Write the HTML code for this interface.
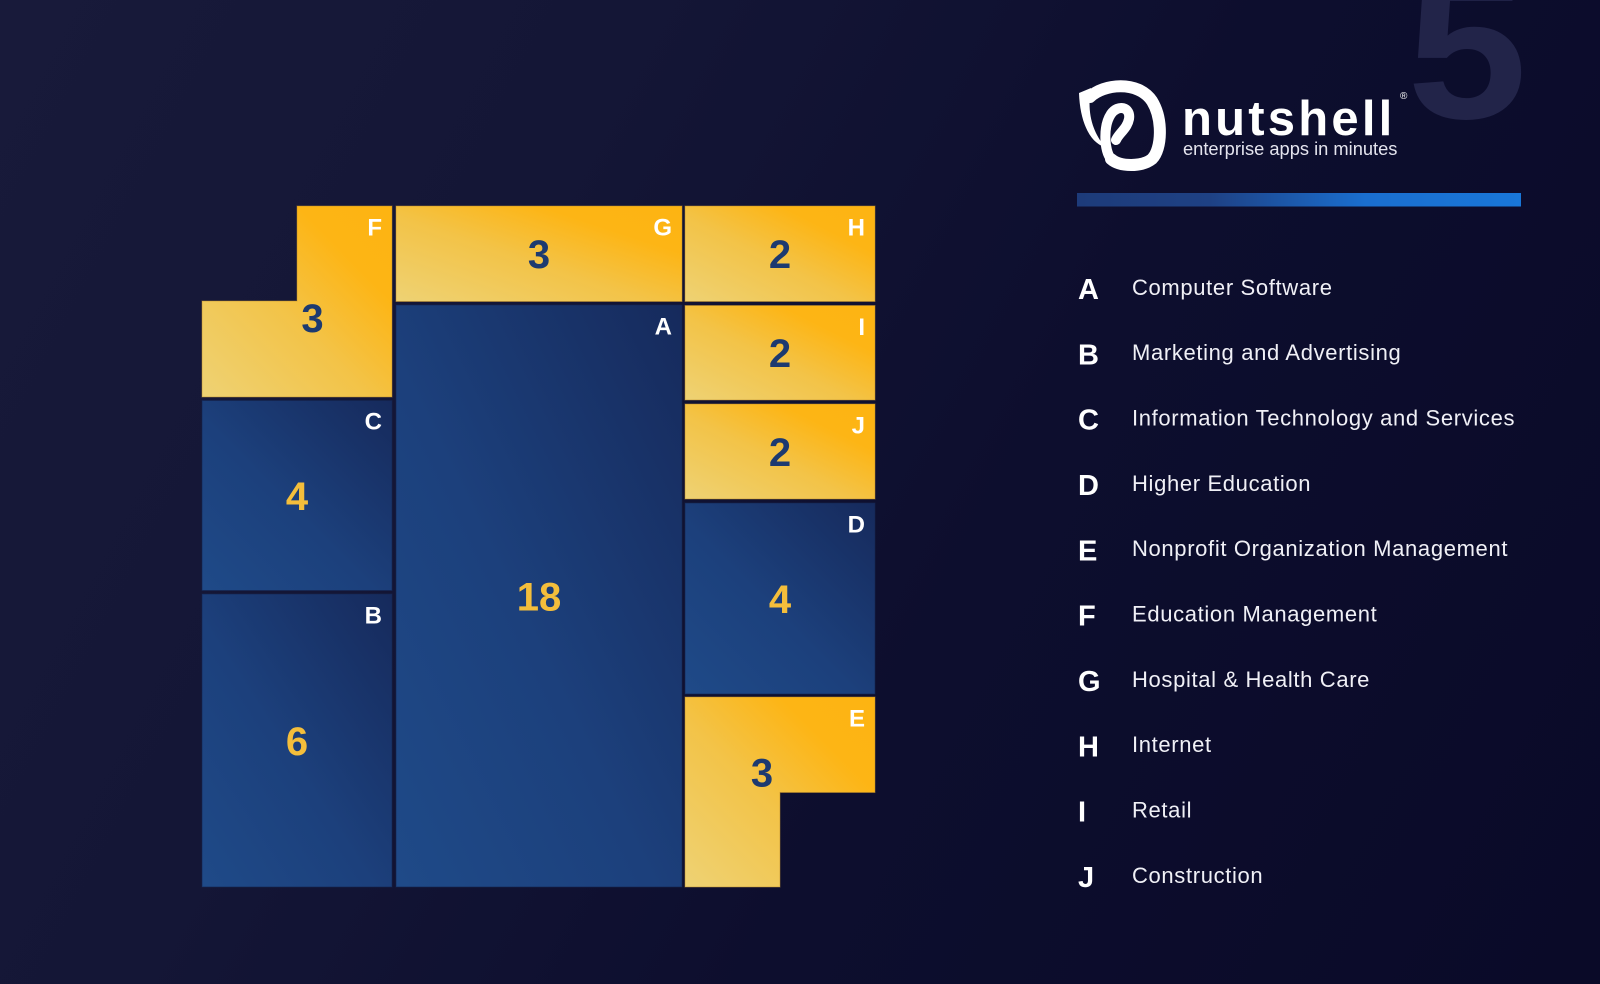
<!DOCTYPE html>
<html>
<head>
<meta charset="utf-8">
<style>
  html, body { margin:0; padding:0; }
  body {
    width:1600px; height:984px; overflow:hidden;
    background: linear-gradient(118deg, #181a3a 0%, #141636 30%, #0d0e2e 60%, #0a0a28 100%);
    font-family: "Liberation Sans", "DejaVu Sans", sans-serif;
  }
  svg { position:absolute; left:0; top:0; }
</style>
</head>
<body>
<svg width="1600" height="984" viewBox="0 0 1600 984" xmlns="http://www.w3.org/2000/svg">
  <defs>
    <linearGradient id="yel" x1="0" y1="1" x2="1" y2="0">
      <stop offset="0" stop-color="#eed274"/>
      <stop offset="0.45" stop-color="#f3c347"/>
      <stop offset="0.75" stop-color="#fdb515"/>
      <stop offset="1" stop-color="#fdb412"/>
    </linearGradient>
    <linearGradient id="blu" x1="0" y1="1" x2="1" y2="0">
      <stop offset="0" stop-color="#1f4a88"/>
      <stop offset="0.45" stop-color="#1c407c"/>
      <stop offset="1" stop-color="#162a5c"/>
    </linearGradient>
    <linearGradient id="bar" x1="0" y1="0" x2="1" y2="0">
      <stop offset="0" stop-color="#1d3b7a"/>
      <stop offset="0.3" stop-color="#1e4184"/>
      <stop offset="0.65" stop-color="#1a6ecf"/>
      <stop offset="1" stop-color="#1977d9"/>
    </linearGradient>
  </defs>

  <!-- big faint 5 -->
  <text x="1407" y="118" font-family="Liberation Sans, sans-serif" font-weight="bold" font-size="200" fill="#222449" transform="translate(1407 0) scale(1.08 1) translate(-1407 0)">5</text>

  <!-- Treemap tiles -->
  <g stroke-width="1">
    <polygon points="297,206 392,206 392,397 202,397 202,301 297,301" fill="url(#yel)" stroke="#b98a2c" stroke-opacity="0.5"/>
    <rect x="396" y="206" width="286" height="95.5" fill="url(#yel)" stroke="#b98a2c" stroke-opacity="0.5"/>
    <rect x="685" y="206" width="190" height="95.5" fill="url(#yel)" stroke="#b98a2c" stroke-opacity="0.5"/>
    <rect x="685" y="305.5" width="190" height="94.5" fill="url(#yel)" stroke="#b98a2c" stroke-opacity="0.5"/>
    <rect x="685" y="404" width="190" height="95" fill="url(#yel)" stroke="#b98a2c" stroke-opacity="0.5"/>
    <rect x="685" y="503" width="190" height="191" fill="url(#blu)" stroke="#14254f" stroke-opacity="0.6"/>
    <polygon points="685,697 875,697 875,792.5 780,792.5 780,887 685,887" fill="url(#yel)" stroke="#b98a2c" stroke-opacity="0.5"/>
    <rect x="396" y="305" width="286" height="582" fill="url(#blu)" stroke="#14254f" stroke-opacity="0.6"/>
    <rect x="202" y="400.5" width="190" height="190" fill="url(#blu)" stroke="#14254f" stroke-opacity="0.6"/>
    <rect x="202" y="594" width="190" height="293" fill="url(#blu)" stroke="#14254f" stroke-opacity="0.6"/>
  </g>

  <!-- values -->
  <g font-family="Liberation Sans, sans-serif" font-weight="bold" font-size="40" text-anchor="middle">
    <text x="312.5" y="332" fill="#1d3a70">3</text>
    <text x="539" y="268" fill="#1d3a70">3</text>
    <text x="780" y="268" fill="#1d3a70">2</text>
    <text x="780" y="367" fill="#1d3a70">2</text>
    <text x="780" y="466" fill="#1d3a70">2</text>
    <text x="762" y="786.5" fill="#1d3a70">3</text>
    <text x="539" y="610.5" fill="#f4be3b">18</text>
    <text x="297" y="510" fill="#f4be3b">4</text>
    <text x="297" y="755" fill="#f4be3b">6</text>
    <text x="780" y="613" fill="#f4be3b">4</text>
  </g>

  <!-- tile labels -->
  <g font-family="Liberation Sans, sans-serif" font-weight="bold" font-size="24" text-anchor="end" fill="#ffffff">
    <text x="382" y="235.5">F</text>
    <text x="672" y="235.5">G</text>
    <text x="865" y="235.5">H</text>
    <text x="672" y="334.5">A</text>
    <text x="865" y="335">I</text>
    <text x="865" y="433.5">J</text>
    <text x="382" y="429.5">C</text>
    <text x="382" y="623.5">B</text>
    <text x="865" y="532.5">D</text>
    <text x="865" y="726.5">E</text>
  </g>

  <!-- logo icon -->
  <g fill="none" stroke="#ffffff" stroke-linecap="round" stroke-linejoin="round">
    <path d="M1090,97 C1103,84 1138,80 1152,101 C1163,119 1162,149 1152,159 C1142,167 1120,167 1111,159" stroke-width="12"/>
    <path d="M1111,159 C1104,150 1103,126 1111,114 C1118,104 1131,107 1129,119 C1127,129 1119,133 1116,140" stroke-width="10"/>
  </g>
  <path d="M1079,93 L1091,88 C1087,110 1091,130 1105,147 C1090,143 1080,122 1079,93 Z" fill="#ffffff"/>

  <!-- logo text -->
  <text x="1182" y="135" font-family="Liberation Sans, sans-serif" font-weight="bold" font-size="49" letter-spacing="3.2" fill="#ffffff">nutshell</text>
  <text x="1400" y="99" font-family="Liberation Sans, sans-serif" font-size="10" fill="#ffffff">®</text>
  <text x="1183" y="155" font-family="Liberation Sans, sans-serif" font-size="18.3" fill="#e4e4ee">enterprise apps in minutes</text>

  <!-- gradient bar -->
  <rect x="1077" y="193" width="444" height="13.5" fill="url(#bar)"/>

  <!-- legend -->
  <g font-family="Liberation Sans, sans-serif" fill="#ffffff">
    <g font-weight="bold" font-size="29">
      <text x="1078" y="299">A</text>
      <text x="1078" y="364.3">B</text>
      <text x="1078" y="429.7">C</text>
      <text x="1078" y="495">D</text>
      <text x="1078" y="560.3">E</text>
      <text x="1078" y="625.7">F</text>
      <text x="1078" y="691">G</text>
      <text x="1078" y="756.3">H</text>
      <text x="1078" y="821.7">I</text>
      <text x="1078" y="887">J</text>
    </g>
    <g font-size="22" letter-spacing="0.65" fill="#f0f0f6">
      <text x="1132" y="294.8">Computer Software</text>
      <text x="1132" y="360.1">Marketing and Advertising</text>
      <text x="1132" y="425.5">Information Technology and Services</text>
      <text x="1132" y="490.8">Higher Education</text>
      <text x="1132" y="556.1">Nonprofit Organization Management</text>
      <text x="1132" y="621.5">Education Management</text>
      <text x="1132" y="686.8">Hospital &amp; Health Care</text>
      <text x="1132" y="752.1">Internet</text>
      <text x="1132" y="817.5">Retail</text>
      <text x="1132" y="882.8">Construction</text>
    </g>
  </g>
</svg>
</body>
</html>
